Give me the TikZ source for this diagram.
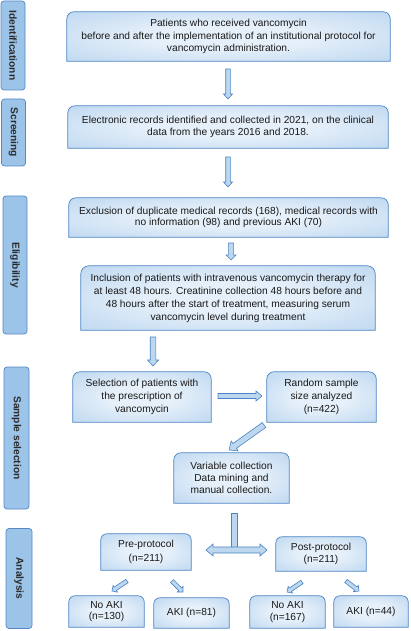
\documentclass[tikz,border=0pt]{standalone}
\usepackage{fontspec}
\setmainfont{Liberation Sans}
\usetikzlibrary{calc,backgrounds}
\definecolor{bline}{HTML}{4A84C4}
\definecolor{bout}{HTML}{A4C8EA}
\definecolor{bin}{HTML}{E6F0FA}
\definecolor{sfill}{HTML}{9CC3E8}
\definecolor{sline}{HTML}{5588C4}
\definecolor{stext}{HTML}{2B2B2B}
\definecolor{afill}{HTML}{BDD7EE}
\definecolor{aline}{HTML}{4A84C4}
\pgfdeclareradialshading{boxshade}{\pgfpoint{0bp}{0bp}}{color(0bp)=(bin); color(12bp)=(bin); color(52bp)=(bout); color(80bp)=(bout)}
\begin{document}
\begin{tikzpicture}[x=1pt,y=-1pt,
  box/.style={inner sep=0pt, align=center, font=\fontsize{10.2}{12.2}\selectfont, text=black!90},
  boxshape/.style={draw=bline, line width=0.7pt, shading=boxshade},
  side/.style={draw=sline, fill=sfill, line width=0.7pt, rounded corners=3pt, rotate=-90,
    font=\bfseries\fontsize{10.2}{11}\selectfont, text=stext, inner sep=0pt, minimum height=24pt},
  barrow/.style n args={3}{draw=aline, fill=afill, line width=0.6pt, to path={
    let \p1=(\tikztostart), \p2=(\tikztotarget), \n1={atan2(\y2-\y1,\x2-\x1)} in
    ($(\p1)+(\n1+90:#1)$) -- ($(\p2)+(\n1+180:#3)+(\n1+90:#1)$) -- ($(\p2)+(\n1+180:#3)+(\n1+90:#2)$)
    -- (\p2) -- ($(\p2)+(\n1+180:#3)+(\n1-90:#2)$) -- ($(\p2)+(\n1+180:#3)+(\n1-90:#1)$)
    -- ($(\p1)+(\n1-90:#1)$) -- cycle}},
  dbarrow/.style n args={3}{draw=aline, fill=afill, line width=0.6pt, to path={
    let \p1=(\tikztostart), \p2=(\tikztotarget), \n1={atan2(\y2-\y1,\x2-\x1)} in
    (\p1) -- ($(\p1)+(\n1:#3)+(\n1+90:#2)$) -- ($(\p1)+(\n1:#3)+(\n1+90:#1)$)
    -- ($(\p2)+(\n1+180:#3)+(\n1+90:#1)$) -- ($(\p2)+(\n1+180:#3)+(\n1+90:#2)$)
    -- (\p2) -- ($(\p2)+(\n1+180:#3)+(\n1-90:#2)$) -- ($(\p2)+(\n1+180:#3)+(\n1-90:#1)$)
    -- ($(\p1)+(\n1:#3)+(\n1-90:#1)$) -- ($(\p1)+(\n1:#3)+(\n1-90:#2)$) -- cycle}}
]
\useasboundingbox (0,0) rectangle (410,631);

% side labels
\node[side, minimum width=89pt] (s1) at (13,45.5) {Identificationn};
\node[side, minimum width=67pt] (s2) at (13.5,132.5) {Screening};
\node[side, minimum width=138pt] (s3) at (15,265) {Eligibility};
\node[side, minimum width=142pt, minimum height=25pt] (s4) at (16.5,438) {Sample selection};
\node[side, minimum width=100pt, minimum height=26pt] (s5) at (19,578.5) {Analysis};

% main boxes
\node[box, minimum width=323pt, minimum height=49pt] (b1) at (228.5,36.5)
  {Patients who received vancomycin\\before and after the implementation of an institutional protocol for\\vancomycin administration.};
\node[box, minimum width=320pt, minimum height=42pt, font=\fontsize{10.2}{11.7}\selectfont] (b2) at (228,127)
  {Electronic records identified and collected in 2021, on the clinical\\data from the years 2016 and 2018.};
\node[box, minimum width=319pt, minimum height=39pt, font=\fontsize{10.2}{11.7}\selectfont] (b3) at (228.5,217.5)
  {Exclusion of duplicate medical records (168), medical records with\\no information (98) and previous AKI (70)};
\node[box, minimum width=294pt, minimum height=64pt, font=\fontsize{10.2}{13}\selectfont] (b4) at (228,298)
  {Inclusion of patients with intravenous vancomycin therapy for\\at least 48 hours. Creatinine collection 48 hours before and\\48 hours after the start of treatment, measuring serum\\vancomycin level during treatment};
\node[box, minimum width=138pt, minimum height=50pt, font=\fontsize{10.2}{13}\selectfont] (b5) at (142,397)
  {Selection of patients with\\the prescription of\\vancomycin};
\node[box, minimum width=109pt, minimum height=50pt, font=\fontsize{10.2}{13}\selectfont] (b6) at (321.5,397)
  {Random sample\\size analyzed\\(n=422)};
\node[box, minimum width=115pt, minimum height=50pt, font=\fontsize{10.2}{11.7}\selectfont] (b7) at (231.5,478)
  {Variable collection\\Data mining and\\manual collection.};
\node[box, minimum width=90pt, minimum height=36pt, font=\fontsize{10.2}{14}\selectfont] (b8) at (146,552)
  {Pre-protocol\\(n=211)};
\node[box, minimum width=90pt, minimum height=34pt, font=\fontsize{10.2}{12.5}\selectfont] (b9) at (321,554)
  {Post-protocol\\(n=211)};
\node[box, minimum width=75pt, minimum height=31pt, font=\fontsize{10.2}{11.5}\selectfont] (b10) at (106.5,611.5) {No AKI\\(n=130)};
\node[box, minimum width=75pt, minimum height=30pt] (b11) at (191.5,613) {AKI (n=81)};
\node[box, minimum width=75pt, minimum height=32pt, font=\fontsize{10.2}{11.5}\selectfont] (b12) at (287.5,612) {No AKI\\(n=167)};
\node[box, minimum width=74pt, minimum height=31pt] (b13) at (371,611.5) {AKI (n=44)};

\begin{scope}[on background layer]
\foreach \n/\r in {b1/7,b2/7,b3/7,b4/8,b5/7,b6/7,b7/7,b8/6,b9/6,b10/6,b11/6,b12/6,b13/6}
  \draw[boxshape] (\n.south west) [rounded corners=\r pt] -- (\n.north west) -- (\n.north east) [sharp corners] -- (\n.south east) -- cycle;
\end{scope}

% arrow end points
\coordinate (a1s) at (228,69);   \coordinate (a1e) at (228,99);
\coordinate (a2s) at (228,157);  \coordinate (a2e) at (228,187);
\coordinate (a3s) at (231,243);  \coordinate (a3e) at (231,260);
\coordinate (a4s) at (153,337);  \coordinate (a4e) at (153,366);
\coordinate (a5s) at (218,396);  \coordinate (a5e) at (262,396);
\coordinate (a6s) at (264,425);  \coordinate (a6e) at (229,450);
\coordinate (ts) at (234.3,513); \coordinate (te) at (234.3,550);
\coordinate (dl) at (206,550);   \coordinate (dr) at (267,550);
\coordinate (p1s) at (127,581);  \coordinate (p1e) at (112,591);
\coordinate (p2s) at (172,581);  \coordinate (p2e) at (183,592);
\coordinate (q1s) at (302,582);  \coordinate (q1e) at (287,592);
\coordinate (q2s) at (346,581);  \coordinate (q2e) at (359,591);

\draw[barrow={2.3pt}{4.5pt}{5pt}] (a1s) to (a1e);
\draw[barrow={2.3pt}{4.5pt}{5pt}] (a2s) to (a2e);
\draw[barrow={2.6pt}{5pt}{5pt}] (a3s) to (a3e);
\draw[barrow={2.8pt}{5.5pt}{6pt}] (a4s) to (a4e);
\draw[barrow={2.5pt}{5pt}{6pt}] (a5s) to (a5e);
\draw[barrow={3pt}{6pt}{7pt}] (a6s) to (a6e);
\draw[draw=aline, fill=afill, line width=0.6pt] ([xshift=-2.7pt]ts) rectangle ([xshift=2.7pt]te);
\draw[dbarrow={3pt}{6pt}{7pt}] (dl) to (dr);
\draw[barrow={2pt}{4pt}{4pt}] (p1s) to (p1e);
\draw[barrow={2pt}{4pt}{4pt}] (p2s) to (p2e);
\draw[barrow={2pt}{4pt}{4pt}] (q1s) to (q1e);
\draw[barrow={2pt}{4pt}{4pt}] (q2s) to (q2e);
\end{tikzpicture}
\end{document}
